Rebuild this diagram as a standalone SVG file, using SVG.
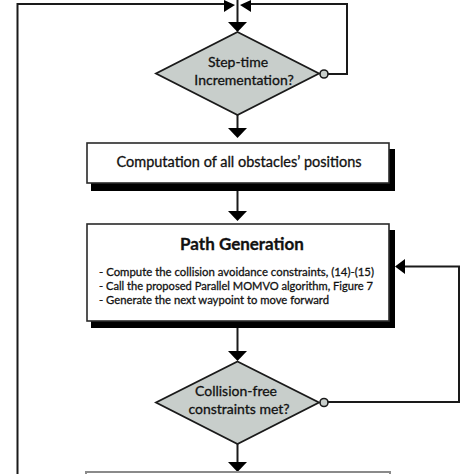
<svg xmlns="http://www.w3.org/2000/svg" width="474" height="474" viewBox="0 0 474 474">
<defs>
<style>
.ln{fill:none;stroke:#1a1a1a;stroke-width:2}
.dia{fill:#c8cecb;stroke:#1a1a1a;stroke-width:1.8}
.box{fill:#fff;stroke:#2a2a2a;stroke-width:1.6}
.sh{fill:#000}
.t{font-family:Lato,"Liberation Sans",sans-serif;fill:#111;stroke:#111;stroke-width:0.3;text-anchor:middle}
.b{font-family:Lato,"Liberation Sans",sans-serif;fill:#111;stroke:#111;stroke-width:0.3}
.ah{fill:#000}
.circ{fill:#c8cecb;stroke:#1a1a1a;stroke-width:1.6}
</style>
</defs>
<rect width="474" height="474" fill="#fff"/>
<g id="connectors">
<path class="ln" d="M17.5 474 V4 H227"/>
<polygon class="ah" points="224,0 235,5 224,12"/>
<path class="ln" d="M328 74 H347 V4 H250"/>
<polygon class="ah" points="251,0 240,5 251,12"/>
<path class="ln" d="M237.5 0 V24"/>
<polygon class="ah" points="228,22 247,22 237.5,32"/>
<path class="ln" d="M237.5 115 V129"/>
<polygon class="ah" points="228,128 247,128 237.5,138"/>
<path class="ln" d="M237.5 191 V213"/>
<polygon class="ah" points="228,211 247,211 237.5,221"/>
<path class="ln" d="M237.5 328 V352"/>
<polygon class="ah" points="228,351 247,351 237.5,361"/>
<path class="ln" d="M237.5 444 V463"/>
<polygon class="ah" points="228,462 247,462 237.5,472"/>
<path class="ln" d="M328 402 H459 V266.5 H404"/>
<polygon class="ah" points="405,259 395,266.5 405,274"/>
</g>
<g id="step-time">
<polygon class="dia" points="237.5,32 319,73.5 237.5,115 156,73.5"/>
<circle class="circ" cx="324" cy="74" r="4"/>
<text class="t" x="238" y="67" font-size="14">Step-time</text>
<text class="t" x="244" y="85" font-size="14">Incrementation?</text>
</g>
<g id="obstacles">
<rect class="sh" x="91" y="149" width="304" height="42"/>
<rect class="box" x="87" y="143" width="302" height="40"/>
<text class="t" x="239" y="167" font-size="14.5">Computation of all obstacles’ positions</text>
</g>
<g id="path-generation">
<rect class="sh" x="91" y="230" width="304" height="98"/>
<rect class="box" x="87" y="224" width="302" height="97"/>
<text class="t" x="242" y="250" font-size="17" font-weight="bold">Path Generation</text>
<text class="b" x="99" y="276" font-size="12" textLength="275" lengthAdjust="spacingAndGlyphs">- Compute the collision avoidance constraints, (14)-(15)</text>
<text class="b" x="99" y="290" font-size="12" textLength="274" lengthAdjust="spacingAndGlyphs">- Call the proposed Parallel MOMVO algorithm, Figure 7</text>
<text class="b" x="99" y="304" font-size="12" textLength="230" lengthAdjust="spacingAndGlyphs">- Generate the next waypoint to move forward</text>
</g>
<g id="collision-free">
<polygon class="dia" points="237.5,361.5 319,402.5 237.5,444 156,402.5"/>
<circle class="circ" cx="324" cy="402.5" r="4"/>
<text class="t" x="236" y="396" font-size="14">Collision-free</text>
<text class="t" x="239" y="414" font-size="14">constraints met?</text>
</g>
<g id="next-box">
<rect x="86" y="472" width="304" height="4" fill="#fff" stroke="#8a8a8a" stroke-width="2"/>
</g>
</svg>
